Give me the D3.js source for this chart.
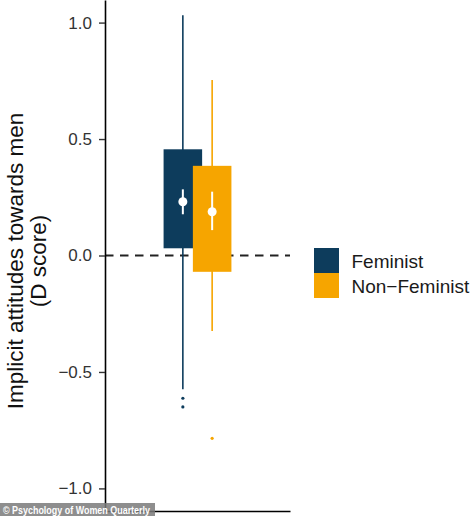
<!DOCTYPE html>
<html>
<head>
<meta charset="utf-8">
<script src="https://cdn.jsdelivr.net/npm/d3@7"></script>
<style>
  body { margin: 0; background: #fff; }
  svg { display: block; font-family: "Liberation Sans", Arial, sans-serif; }
</style>
</head>
<body>
<div id="chart"></div>
<script>
// values
const groups = ["Feminist", "Non\u2212Feminist"];
const colors = ["#0d3c5c", "#f6a500"];
const q1 = [0.031, -0.070];
const q3 = [0.456, 0.385];
const whiskerLow = [-0.574, -0.324];
const whiskerHigh = [1.032, 0.753];
const outliers = [[-0.613, -0.650], [-0.785]];
const means = [0.231, 0.188];
const ciLow = [0.177, 0.109];
const ciHigh = [0.284, 0.274];
const yTicks = [-1.0, -0.5, 0.0, 0.5, 1.0];
const dodge = [-0.095, 0.095];

const W = 474, H = 516;
const svg = d3.select("#chart").append("svg")
  .attr("width", W).attr("height", H);

const x = d3.scaleLinear().domain([0.4, 1.6]).range([105, 290]);
const y = d3.scaleLinear().domain([-1.097, 1.097]).range([511, 0]);
const boxW = x(0.25) - x(0);

// zero reference line, under the boxes
svg.append("line")
  .attr("x1", x(0.4)).attr("x2", x(1.6))
  .attr("y1", y(0)).attr("y2", y(0))
  .attr("stroke", "#222").attr("stroke-width", 2)
  .attr("stroke-dasharray", "8.5,6.5");

groups.forEach((g, i) => {
  const cx = x(1 + dodge[i]);
  const grp = svg.append("g");
  grp.append("line")
    .attr("x1", cx).attr("x2", cx)
    .attr("y1", y(whiskerHigh[i])).attr("y2", y(whiskerLow[i]))
    .attr("stroke", colors[i]).attr("stroke-width", 1.6);
  grp.append("rect")
    .attr("x", cx - boxW / 2).attr("width", boxW)
    .attr("y", y(q3[i])).attr("height", y(q1[i]) - y(q3[i]))
    .attr("fill", colors[i]);
  grp.selectAll("circle.out")
    .data(outliers[i])
    .enter().append("circle")
    .attr("class", "out")
    .attr("cx", cx).attr("cy", d => y(d)).attr("r", 1.6)
    .attr("fill", colors[i]);
  // mean and CI
  grp.append("line")
    .attr("x1", cx).attr("x2", cx)
    .attr("y1", y(ciHigh[i])).attr("y2", y(ciLow[i]))
    .attr("stroke", "#fff").attr("stroke-width", 2);
  grp.append("circle")
    .attr("cx", cx).attr("cy", y(means[i])).attr("r", 4.5)
    .attr("fill", "#fff");
});

// axes
const yAxis = svg.append("g")
  .attr("transform", `translate(${x(0.4)},0)`)
  .call(d3.axisLeft(y).tickValues(yTicks).tickFormat(d3.format(".1f"))
    .tickSize(6).tickPadding(7).tickSizeOuter(0));
yAxis.select(".domain").attr("stroke", "#000").attr("stroke-width", 1.6);
yAxis.selectAll(".tick line").attr("stroke", "#333").attr("stroke-width", 1.4);
yAxis.selectAll(".tick text")
  .attr("font-size", 17).attr("fill", "#333")
  .attr("font-family", "Liberation Sans, Arial, sans-serif");

const xAxis = svg.append("g")
  .attr("transform", `translate(0,${y(-1.097)})`)
  .call(d3.axisBottom(x).tickValues([]).tickSizeOuter(0));
xAxis.select(".domain").attr("stroke", "#000").attr("stroke-width", 1.6);

// y title
const yTitle = svg.append("text")
  .attr("transform", "translate(23,261) rotate(-90)")
  .attr("text-anchor", "middle")
  .attr("font-size", 22.5).attr("fill", "#111");
yTitle.append("tspan").attr("x", 0).attr("y", 0).text("Implicit attitudes towards men");
yTitle.append("tspan").attr("x", 0).attr("y", 23).text("(D score)");

// legend
const legend = svg.append("g").attr("transform", "translate(314,248)");
groups.forEach((g, i) => {
  legend.append("rect")
    .attr("x", 0).attr("y", i * 25).attr("width", 25).attr("height", 25)
    .attr("fill", colors[i]);
  legend.append("text")
    .attr("x", 37.5).attr("y", i * 25 + 19.5)
    .attr("font-size", 19).attr("fill", "#1a1a1a")
    .text(g);
});

// watermark
svg.append("rect")
  .attr("x", 0).attr("y", 503).attr("width", 155).attr("height", 13)
  .attr("fill", "#7a7a7a").attr("opacity", 0.85);
svg.append("text")
  .attr("x", 3).attr("y", 513.5)
  .attr("font-size", 10.5).attr("font-weight", "bold").attr("fill", "#fff")
  .attr("textLength", 147).attr("lengthAdjust", "spacingAndGlyphs")
  .text("© Psychology of Women Quarterly");
</script>
</body>
</html>
